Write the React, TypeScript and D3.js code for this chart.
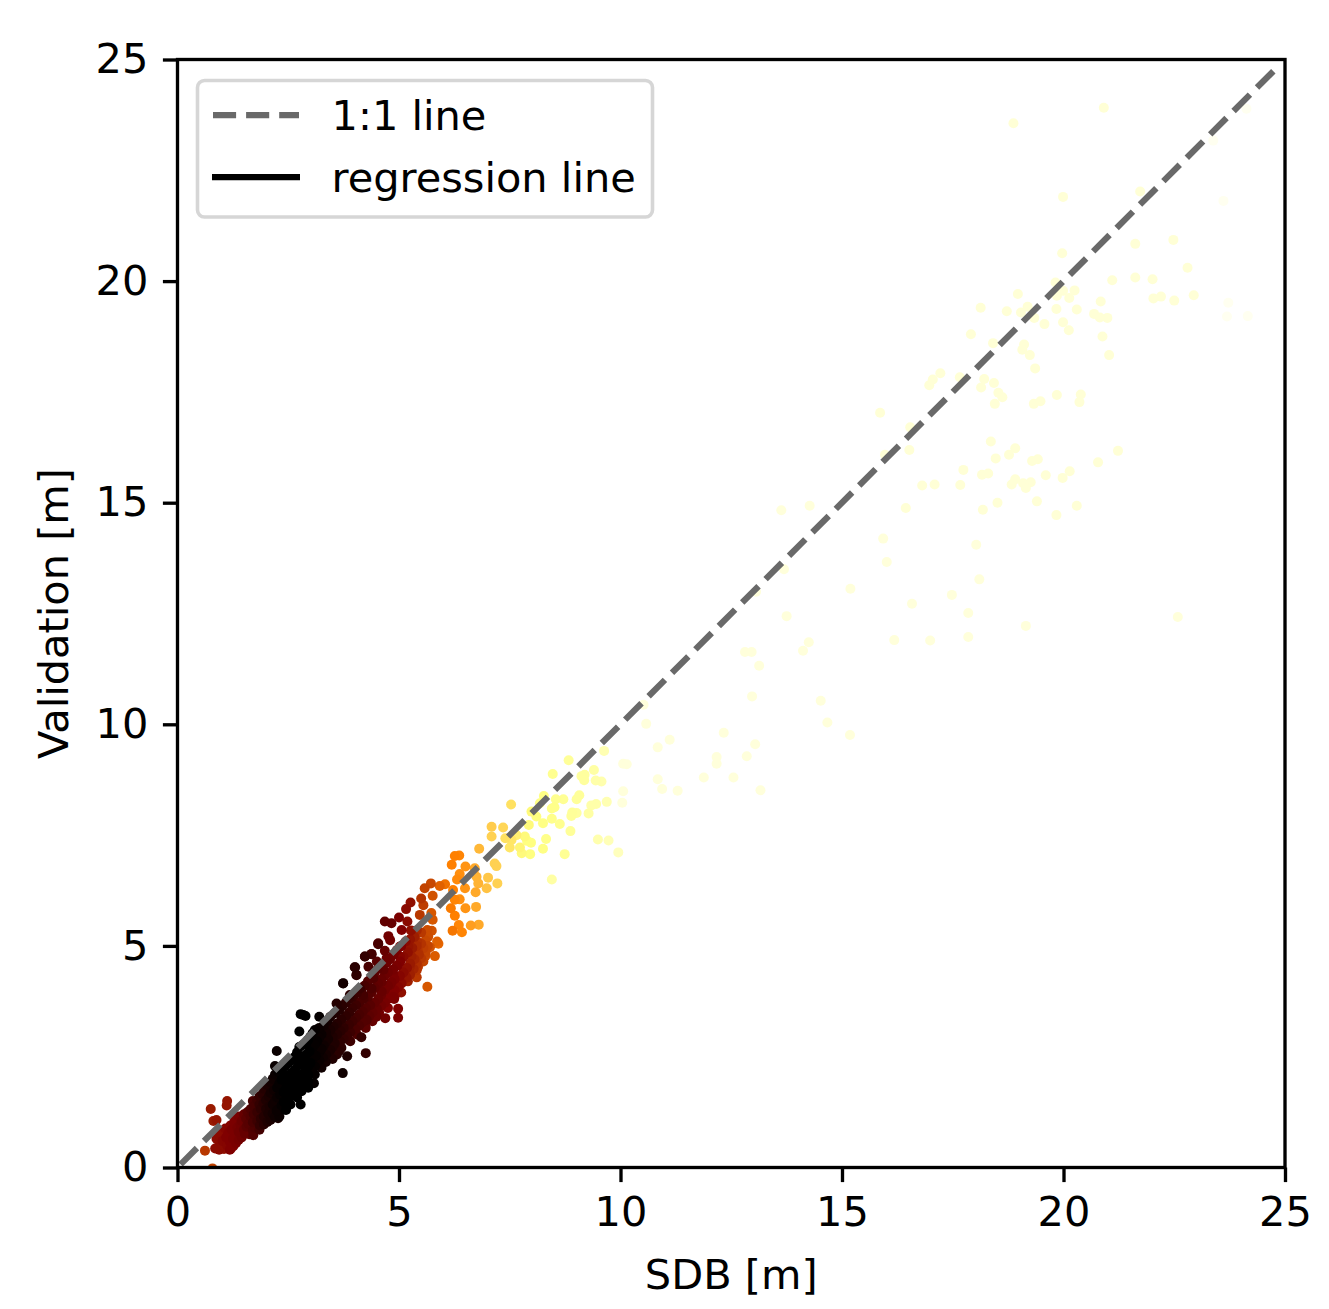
import React, { useEffect, useRef } from 'react';
import * as d3 from 'd3';

type Pt = number[];

const axisTicks = [0, 5, 10, 15, 20, 25];
const xLabel = 'SDB [m]';
const yLabel = 'Validation [m]';
const legendLabels = ['1:1 line', 'regression line'];
const identityEnds = [0.07, 24.85];

// densest part of the cloud: [sdb, validation, colour position]
const bandPoints: Pt[] = [
  [0.9,0.45,.28],[1.05,0.42,.28],[1.2,0.42,.27],[0.88,0.65,.27],[1.02,0.6,.26],[1.18,0.58,.25],[1.32,0.55,.24],
  [1.0,0.8,.27],[1.15,0.78,.25],[1.3,0.72,.24],[1.45,0.68,.22],[1.2,0.95,.26],[1.35,0.9,.23],[1.5,0.85,.2],[1.62,0.75,.2],
  [1.3,1.1,.25],[1.45,1.05,.21],[1.6,0.98,.17],[1.75,0.9,.15],[1.85,.85,.13],[1.5,1.2,.2],[1.65,1.15,.16],[1.8,1.05,.12],[1.95,.97,.08],
  [1.65,1.32,.15],[1.8,1.25,.11],[1.95,1.15,.07],[2.1,1.07,.05],[1.7,1.5,.14],[1.85,1.42,.1],[2.0,1.32,.06],[2.15,1.22,.04],[2.3,1.15,.02],
  [1.85,1.6,.1],[2.0,1.52,.06],[2.15,1.42,.03],[2.3,1.32,.02],[2.45,1.3,0],[1.95,1.78,.07],[2.1,1.68,.04],[2.25,1.58,.02],[2.4,1.48,0],[2.55,1.42,0],
  [2.1,1.92,.04],[2.25,1.8,.01],[2.4,1.7,0],[2.55,1.6,0],[2.7,1.58,0],[2.2,2.1,.02],[2.35,1.98,0],[2.5,1.85,0],[2.65,1.75,0],[2.8,1.72,0],[2.95,1.8,0],
  [2.35,2.2,0],[2.5,2.08,0],[2.65,1.95,0],[2.8,1.9,0],[2.95,1.95,0],[2.5,2.35,0],[2.65,2.2,0],[2.8,2.1,0],[2.95,2.1,0],[3.1,2.1,.01],
  [2.65,2.5,0],[2.8,2.38,0],[2.95,2.28,0],[3.1,2.28,.01],[3.25,2.25,.03],[2.75,2.72,0],[2.9,2.55,0],[3.05,2.45,.01],[3.2,2.42,.02],[3.35,2.38,.04],
  [2.9,2.8,0],[3.05,2.7,.01],[3.2,2.6,.02],[3.35,2.55,.04],[3.5,2.45,.06],[3.0,2.95,.01],[3.15,2.85,.01],[3.3,2.75,.03],[3.45,2.65,.05],[3.6,2.55,.08],
  [3.1,3.1,.01],[3.25,3.0,.02],[3.4,2.9,.04],[3.55,2.8,.06],[3.7,2.7,.09],[3.3,3.2,.03],[3.45,3.1,.05],[3.6,3.0,.07],[3.75,2.9,.1],[3.9,2.85,.12],
  [3.45,3.4,.05],[3.6,3.25,.07],[3.75,3.15,.09],[3.9,3.05,.12],[4.05,3.0,.15],[3.65,3.55,.07],[3.8,3.42,.09],[3.95,3.3,.12],[4.1,3.2,.15],[4.25,3.15,.18],
  [3.8,3.72,.09],[3.95,3.6,.11],[4.1,3.45,.14],[4.25,3.35,.17],[4.4,3.3,.2],[3.95,3.85,.11],[4.1,3.72,.14],[4.25,3.6,.16],[4.4,3.5,.19],[4.55,3.5,.22],
  [4.15,4.0,.14],[4.3,3.85,.16],[4.45,3.72,.19],[4.6,3.65,.22],[4.75,3.6,.25],[4.3,4.2,.16],[4.45,4.05,.18],[4.6,3.9,.21],[4.75,3.8,.24],[4.9,3.85,.26],
  [4.45,4.4,.18],[4.6,4.25,.2],[4.75,4.1,.22],[4.9,4.0,.25],[5.05,3.95,.28],[4.6,4.55,.2],[4.75,4.4,.22],[4.9,4.25,.24],[5.05,4.15,.27],[5.2,4.2,.31],
  [4.8,4.7,.22],[4.95,4.55,.24],[5.1,4.4,.27],[5.25,4.35,.31],[5.4,4.45,.35],[4.95,4.9,.24],[5.1,4.75,.27],[5.25,4.6,.3],[5.4,4.6,.34],[5.55,4.65,.38],
  [5.15,5.1,.27],[5.3,4.95,.3],[5.45,4.8,.34],[5.6,4.85,.38],[5.35,5.2,.31],[5.5,5.05,.35],[5.65,5.0,.38],
];

// more of the same band, the points sitting between the ones above
const bandInner: Pt[] = [
  [1.0,.52,.27],[1.12,.5,.26],[1.26,.48,.25],[.95,.72,.27],[1.1,.68,.25],[1.25,.65,.24],[1.38,.62,.23],[1.08,.88,.26],[1.22,.85,.24],[1.38,.8,.22],[1.52,.76,.2],
  [1.28,1.02,.24],[1.42,.97,.22],[1.56,.92,.18],[1.7,.84,.16],[1.38,1.15,.23],[1.55,1.1,.18],[1.7,1.02,.14],[1.86,.95,.1],[1.58,1.25,.17],[1.72,1.2,.13],[1.88,1.1,.09],[2.03,1.03,.06],
  [1.72,1.38,.13],[1.88,1.32,.09],[2.05,1.22,.05],[2.2,1.14,.03],[1.8,1.52,.12],[1.94,1.45,.08],[2.08,1.38,.05],[2.24,1.28,.02],[1.92,1.66,.08],[2.06,1.6,.05],[2.2,1.5,.03],[2.35,1.4,.01],
  [2.02,1.86,.05],[2.18,1.74,.03],[2.32,1.64,.01],[2.48,1.53,0],[2.15,2.0,.03],[2.3,1.9,.01],[2.45,1.78,0],[2.6,1.68,0],[2.28,2.15,.01],[2.42,2.03,0],[2.58,1.9,0],[2.72,1.82,0],[2.88,1.82,0],
  [2.42,2.28,0],[2.58,2.14,0],[2.72,2.02,0],[2.88,2.0,0],[2.58,2.42,0],[2.72,2.3,0],[2.88,2.2,0],[3.02,2.18,.01],[2.7,2.6,0],[2.85,2.47,0],[3.0,2.36,0],[3.15,2.35,.02],
  [2.82,2.76,0],[2.98,2.62,0],[3.12,2.52,.01],[3.28,2.48,.03],[2.95,2.88,0],[3.1,2.78,.01],[3.25,2.68,.02],[3.4,2.6,.05],[3.05,3.03,.01],[3.2,2.93,.02],[3.35,2.83,.04],[3.5,2.72,.06],[3.65,2.63,.08],
  [3.2,3.15,.02],[3.35,3.05,.04],[3.5,2.95,.06],[3.67,2.85,.09],[3.38,3.3,.04],[3.52,3.18,.06],[3.68,3.08,.08],[3.83,2.97,.11],[3.55,3.48,.06],[3.7,3.34,.08],[3.87,3.22,.11],[4.02,3.12,.14],
  [3.72,3.64,.08],[3.88,3.5,.1],[4.03,3.38,.13],[4.18,3.28,.16],[3.88,3.8,.1],[4.03,3.66,.12],[4.18,3.52,.15],[4.33,3.42,.18],[4.05,3.93,.12],[4.2,3.8,.14],[4.35,3.66,.17],[4.5,3.58,.2],
  [4.22,4.1,.14],[4.38,3.95,.17],[4.53,3.8,.2],[4.68,3.72,.23],[4.38,4.3,.16],[4.53,4.15,.19],[4.68,4.0,.22],[4.83,3.92,.25],[4.52,4.48,.18],[4.68,4.33,.21],[4.83,4.18,.23],[4.98,4.07,.26],
  [4.72,4.62,.21],[4.87,4.47,.23],[5.02,4.32,.26],[5.17,4.28,.29],[4.88,4.8,.23],[5.03,4.65,.25],[5.18,4.5,.28],[5.33,4.48,.32],[5.05,5.0,.25],[5.2,4.85,.28],[5.35,4.7,.32],[5.5,4.72,.36],
  [5.25,5.15,.29],[5.4,5.0,.33],[5.55,4.95,.37],[5.5,5.3,.36],[5.6,5.12,.39],[5.4,5.35,.33],
];

// loose points around the band, low end
const edgePoints: Pt[] = [
  [0.75,1.32,.3],[1.12,1.5,.29],[1.11,1.4,.29],[0.81,1.05,.3],[0.88,1.07,.29],[0.62,0.38,.36],[0.79,-0.02,.38],
  [2.84,3.44,0],[2.78,3.46,0],[2.89,3.42,0],[3.2,3.4,.01],[2.75,3.07,0],[2.24,2.63,.02],[2.2,2.29,.02],[2.78,1.42,0],[3.08,1.9,.01],
  [3.73,2.13,.03],[3.83,2.51,.06],[4.25,2.58,.1],[4.15,2.94,.1],[3.74,4.16,.05],[4.0,4.52,.08],[4.23,4.76,.1],[4.38,4.81,.13],[4.53,5.04,.14],
  [4.98,3.58,.25],[4.98,3.38,.24],[4.69,3.37,.22],[4.89,3.8,.24],[4.49,3.4,.2],[4.27,3.33,.16],[3.59,3.7,.07],[4.04,4.34,.1],
  [1.18,0.4,.25],[0.94,0.4,.27],[0.85,0.43,.27],[1.71,0.73,.16],[2.27,1.11,.05],[2.42,1.31,.01],
];

// middle of the cloud, going from red through orange into yellow
const midPoints: Pt[] = [
  [9.63,9.4,.85],[8.83,9.19,.8],[8.47,8.88,.78],[9.4,8.97,.82],[9.19,8.86,.81],[9.12,8.83,.81],[9.18,8.74,.81],[9.44,8.73,.83],[9.57,8.71,.84],
  [8.27,8.38,.76],[8.18,8.22,.76],[8.54,8.31,.78],[8.71,8.31,.79],[9.07,8.4,.8],[9.01,8.31,.8],[9.69,8.25,.85],[9.45,8.2,.83],[9.34,8.17,.83],[9.28,7.99,.82],
  [7.53,8.19,.69],[8.51,8.13,.77],[8.45,8.1,.77],[8.91,8.01,.8],[9.01,8.0,.81],[8.89,7.93,.8],[7.99,8.03,.74],[8.1,7.92,.75],[8.45,7.87,.77],[8.25,7.77,.76],[8.63,7.75,.78],[7.93,7.73,.74],[8.87,7.59,.8],
  [7.09,7.69,.65],[7.35,7.67,.67],[7.09,7.47,.66],[7.4,7.43,.69],[7.65,7.5,.72],[7.54,7.39,.7],[7.84,7.47,.74],[7.89,7.37,.75],[7.98,7.33,.75],[8.32,7.41,.77],[7.5,7.22,.7],[7.73,7.22,.73],[8.25,7.19,.76],[7.77,7.09,.74],[7.96,7.07,.75],[8.74,7.07,.79],
  [9.49,7.4,.84],[9.73,7.38,.86],[9.95,7.11,.87],[8.45,6.5,.82],
  [6.81,7.19,.61],[6.26,7.03,.5],[6.36,7.04,.51],[6.19,6.83,.5],[7.16,6.86,.66],[7.2,6.8,.66],[6.5,6.79,.54],[6.71,6.75,.58],[6.37,6.62,.53],[7.01,6.54,.64],[6.31,6.5,.52],[6.75,6.56,.6],[7.22,6.41,.66],[6.79,6.41,.6],[6.98,6.3,.63],[6.73,6.21,.58],
  [5.72,6.41,.39],[5.58,6.3,.38],[5.92,6.35,.44],[6.04,6.39,.47],[6.22,6.26,.5],[6.49,6.3,.54],[5.76,6.13,.41],[5.5,6.07,.35],[6.37,6.05,.53],[6.26,6.04,.51],[5.26,5.98,.28],[5.55,5.92,.37],[5.16,5.83,.27],[6.17,5.85,.49],[6.5,5.85,.54],[6.74,5.88,.58],
  [5.47,5.7,.36],[5.0,5.64,.24],[6.26,5.68,.5],[5.73,5.74,.42],[4.68,5.55,.19],[4.83,5.51,.2],[5.19,5.55,.27],[5.76,5.59,.42],[6.35,5.47,.51],[6.62,5.46,.56],[6.8,5.48,.58],[6.21,5.34,.48],[6.42,5.31,.51],
  [5.06,5.36,.25],[5.27,5.35,.28],[5.64,5.36,.4],[5.74,5.34,.41],[4.76,5.22,.22],[5.41,5.1,.34],[5.86,5.1,.44],[5.66,5.21,.4],[4.53,5.06,.17],[4.8,5.13,.22],[5.89,5.05,.45],[5.7,4.97,.41],[5.21,4.98,.29],[5.02,4.98,.26],[4.68,4.89,.2],[5.81,4.77,.43],[5.43,4.87,.35],[5.59,4.76,.39],
  [4.38,4.82,.13],[4.23,4.76,.12],[5.28,4.76,.31],[5.02,4.76,.26],[4.72,4.72,.21],[4.5,4.65,.17],[5.43,4.53,.36],[5.25,4.53,.31],[4.98,4.57,.25],[4.01,4.52,.08],[4.31,4.53,.14],[4.65,4.46,.19],[5.13,4.35,.29],[4.87,4.35,.24],[5.4,4.29,.36],[4.04,4.35,.09],[4.42,4.27,.16],[4.61,4.19,.2],[3.74,4.15,.04],[5.06,4.16,.28],[4.8,4.12,.23],[5.64,4.08,.42],
  [4.12,4.04,.11],[4.38,4.04,.15],[4.61,3.97,.2],[4.87,3.85,.24],[3.89,3.89,.08],[4.19,3.89,.13],
];

// pale scatter between 10 and 15 m, one colour
const lowerPale: Pt[] = [
  [13.63,14.83],[14.27,14.93],[15.93,14.19],[16.01,13.66],[18.03,14.05],[18.1,13.27],[13.69,13.5],[15.19,13.06],[17.48,12.92],[16.58,12.72],[17.85,12.51],[13.06,12.99],[13.75,12.44],
  [17.85,11.97],[16.99,11.89],[16.18,11.9],[14.25,11.85],[14.12,11.66],[12.81,11.63],[12.96,11.63],[13.13,11.32],[12.97,10.63],[14.52,10.53],[14.67,10.04],[15.18,9.76],
  [10.52,10.44],[10.58,10.01],[11.11,9.65],[10.84,9.48],[12.33,9.81],[13.04,9.55],[12.85,9.28],[12.17,9.26],[12.17,9.11],[11.88,8.8],[12.55,8.8],[13.16,8.51],[10.84,8.76],[10.94,8.54],[11.29,8.5],
  [10.06,9.11],[10.14,9.1],[10.06,8.49],[10.04,8.23],[19.15,12.22],[22.58,12.42],
];

// pale scatter above 15 m
const upperPale: Pt[] = [
  [20.91,23.91],[18.87,23.56],[21.73,22.02],[19.99,21.9],[21.62,20.84],[22.48,20.93],[19.97,20.63],[22.8,20.3],[21.1,20.02],[21.62,20.08],[22.01,20.04],[19.82,19.97],[20.25,19.79],[19.99,19.78],[19.85,19.67],[20.13,19.62],[18.97,19.71],
  [20.84,19.54],[22.03,19.61],[22.2,19.65],[22.5,19.56],[22.94,19.68],[18.13,19.4],[18.72,19.32],[19.04,19.29],[19.19,19.42],[19.84,19.37],[20.3,19.36],[19.34,19.17],[19.57,19.03],[19.99,19.07],[20.12,18.89],[20.69,19.26],[20.82,19.18],[20.99,19.17],[20.88,18.75],[21.03,18.33],
  [17.91,18.8],[18.41,18.6],[19.11,18.57],[19.07,18.45],[19.24,18.33],[19.36,18.03],[17.22,17.92],[17.05,17.78],[16.97,17.65],[17.66,17.83],[18.21,17.79],[18.43,17.7],[18.14,17.6],[18.53,17.48],[18.62,17.38],[18.45,17.23],[19.33,17.23],[19.48,17.29],[19.85,17.43],[20.39,17.44],[20.36,17.27],
  [15.86,17.03],[16.54,16.7],[16.52,16.19],[15.97,16.08],[18.36,16.38],[18.91,16.23],[18.77,16.08],[18.47,16.0],[19.29,15.94],[19.42,15.98],[21.23,16.17],[20.78,15.91],[17.74,15.74],[18.16,15.63],[18.3,15.66],[19.6,15.62],[20.14,15.71],[19.98,15.56],[18.91,15.53],[18.83,15.41],[19.09,15.44],[19.26,15.46],[19.15,15.33],
  [16.81,15.39],[17.09,15.41],[17.67,15.4],[18.51,15.0],[19.4,15.03],[20.3,14.93],[18.18,14.84],[19.84,14.72],[16.44,14.88],
];

// the palest, furthest points
const farPale: Pt[] = [[24.13,23.89],[23.38,23.17],[23.61,21.81],[23.72,19.51],[23.69,19.2],[24.16,19.21]];

const App: React.FC = () => {
  const svgRef = useRef<SVGSVGElement | null>(null);

  useEffect(() => {
    const svg = d3.select(svgRef.current);
    svg.selectAll('*').remove();

    const font = '"DejaVu Sans"';
    const fontSize = 41.5;
    const spine = 3.33;
    const left = 177.5, right = 1285, top = 59.5, bottom = 1167.5;

    const x = d3.scaleLinear().domain([0, 25]).range([left, right]);
    const y = d3.scaleLinear().domain([0, 25]).range([bottom, top]);

    // same stops as matplotlib's afmhot
    const color = d3.scaleLinear<string>()
      .domain([0, 0.25, 0.5, 0.75, 1])
      .range(['#000000', '#800000', '#ff8000', '#ffff80', '#ffffff']);

    svg.append('clipPath').attr('id', 'plot-area')
      .append('rect').attr('x', left).attr('y', top).attr('width', right - left).attr('height', bottom - top);

    const points: Pt[] = [
      ...farPale.map(d => [d[0], d[1], 0.97]),
      ...upperPale.map(d => [d[0], d[1], 0.92]),
      ...lowerPale.map(d => [d[0], d[1], 0.93]),
      ...midPoints,
      ...edgePoints,
      ...bandPoints,
      ...bandInner,
    ].sort((a, b) => b[2] - a[2]);

    svg.append('g')
      .attr('clip-path', 'url(#plot-area)')
      .selectAll('circle')
      .data(points)
      .enter()
      .append('circle')
      .attr('cx', d => x(d[0]))
      .attr('cy', d => y(d[1]))
      .attr('r', 5)
      .attr('fill', d => color(d[2]));

    // 1:1 line
    const line = d3.line<number>().x(d => x(d)).y(d => y(d));
    svg.append('path')
      .attr('d', line(identityEnds))
      .attr('fill', 'none')
      .attr('stroke', '#696969')
      .attr('stroke-width', 6.25)
      .attr('stroke-dasharray', '23.1 10');

    // axes
    const xAxis = svg.append('g')
      .attr('transform', `translate(0,${bottom})`)
      .call(d3.axisBottom(x).tickValues(axisTicks).tickFormat(d3.format('d')).tickSize(14.6).tickPadding(14.5));
    const yAxis = svg.append('g')
      .attr('transform', `translate(${left},0)`)
      .call(d3.axisLeft(y).tickValues(axisTicks).tickFormat(d3.format('d')).tickSize(14.6).tickPadding(14.5));
    [xAxis, yAxis].forEach(a => {
      a.select('.domain').remove();
      a.selectAll('line').attr('stroke', '#000').attr('stroke-width', spine);
      a.selectAll('text').attr('fill', '#000').style('font-family', font).style('font-size', `${fontSize}px`);
    });

    svg.append('rect')
      .attr('x', left).attr('y', top).attr('width', right - left).attr('height', bottom - top)
      .attr('fill', 'none').attr('stroke', '#000').attr('stroke-width', spine);

    svg.append('text')
      .attr('x', (left + right) / 2).attr('y', 1289)
      .attr('text-anchor', 'middle')
      .style('font-family', font).style('font-size', `${fontSize}px`)
      .text(xLabel);
    svg.append('text')
      .attr('transform', `translate(67.5,${(top + bottom) / 2}) rotate(-90)`)
      .attr('text-anchor', 'middle')
      .style('font-family', font).style('font-size', `${fontSize}px`)
      .text(yLabel);

    // legend
    const legend = svg.append('g');
    legend.append('rect')
      .attr('x', 197.5).attr('y', 80.5).attr('width', 455).attr('height', 136.5).attr('rx', 7)
      .attr('fill', '#fff').attr('fill-opacity', 0.8)
      .attr('stroke', '#d6d6d6').attr('stroke-width', 3.6);
    legend.append('line')
      .attr('x1', 213).attr('x2', 299).attr('y1', 115).attr('y2', 115)
      .attr('stroke', '#696969').attr('stroke-width', 6.25).attr('stroke-dasharray', '23.1 10');
    legend.append('line')
      .attr('x1', 212).attr('x2', 300).attr('y1', 177).attr('y2', 177)
      .attr('stroke', '#000').attr('stroke-width', 6.25);
    legend.selectAll('text')
      .data(legendLabels)
      .enter()
      .append('text')
      .attr('x', 331.5)
      .attr('y', (_, i) => 130 + i * 61.5)
      .style('font-family', font).style('font-size', `${fontSize}px`)
      .text(d => d);
  }, []);

  return <svg ref={svgRef} width={1329} height={1309} style={{ position: 'absolute', left: 0, top: 0, display: 'block' }}></svg>;
};

export default App;
